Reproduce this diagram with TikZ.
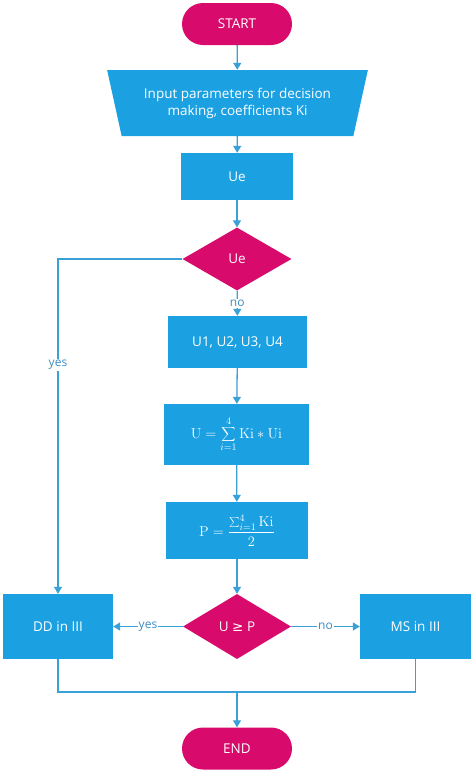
\documentclass[tikz,border=0pt]{standalone}
\usepackage[no-math]{fontspec}
\setmainfont{Open Sans}
\newfontfamily\symfont{DejaVu Sans}
\usetikzlibrary{shapes.geometric, arrows.meta}
\definecolor{boxblue}{HTML}{1BA1E2}
\definecolor{pinkc}{HTML}{D80A6B}
\definecolor{linec}{HTML}{3AA0D8}
\definecolor{labc}{HTML}{3D8EC2}
\begin{document}
\begin{tikzpicture}[x=1pt,y=-1pt,
  font=\fontsize{13.5}{17}\selectfont,
  proc/.style={rectangle, fill=boxblue, text=white, inner sep=2pt, align=center},
  term/.style={rectangle, rounded corners=21pt, fill=pinkc, text=white, minimum width=110pt, minimum height=42pt},
  dec/.style={diamond, fill=pinkc, text=white, inner sep=0pt},
  conn/.style={draw=linec, line width=1.3pt, -{Triangle[width=8pt,length=7pt]}},
  plain/.style={draw=linec, line width=1.3pt},
  lab/.style={fill=white, text=labc, inner sep=1pt, font=\fontsize{12}{14}\selectfont},
  mathf/.style={font=\fontsize{14}{17}\selectfont}
]
\useasboundingbox (0,0) rectangle (474,772);

\node[term] (start) at (237,24) {START};
\node[trapezium, trapezium stretches=true, shape border rotate=180,
      trapezium left angle=69, trapezium right angle=69,
      minimum width=261pt, minimum height=66pt, fill=boxblue, text=white,
      align=center, inner sep=0pt] (input) at (237.5,103)
      {Input parameters for decision\\making, coefficients Ki};
\node[proc, minimum width=112pt, minimum height=47pt] (ue) at (237,176.5) {Ue};
\node[dec, minimum width=109pt, minimum height=63pt] (d1) at (237,259) {Ue};
\node[proc, minimum width=139pt, minimum height=52pt] (u14) at (237.5,342) {U1, U2, U3, U4};
\node[proc, mathf, minimum width=145pt, minimum height=61pt] (usum) at (236.5,434.5)
      {$\displaystyle \mathrm{U}=\sum_{i=1}^{4}\mathrm{Ki}*\mathrm{Ui}$};
\node[proc, mathf, minimum width=142pt, minimum height=57pt] (pf) at (237,530.5)
      {$\displaystyle \mathrm{P}=\frac{\sum_{i=1}^{4}\mathrm{Ki}}{2}$};
\node[dec, minimum width=108pt, minimum height=65pt] (d2) at (237,626.5) {U {\symfont ≥} P};
\node[proc, minimum width=110pt, minimum height=65pt] (dd) at (58,626.5) {DD in III};
\node[proc, minimum width=111pt, minimum height=65pt] (ms) at (415.5,626.5) {MS in III};
\node[term] (end) at (237,748.5) {END};
\coordinate (join) at (237,692);

\draw[conn] (start) -- (input);
\draw[conn] (input) -- (ue);
\draw[conn] (ue) -- (d1);
\draw[conn] (d1) -- node[lab] {no} (u14);
\draw[conn] (d1.west) -| node[lab, pos=0.658] {yes} (dd.north);
\draw[conn] (u14) -- (usum);
\draw[conn] (usum) -- (pf);
\draw[conn] (pf) -- (d2);
\draw[conn] (d2) -- node[lab] {yes} (dd);
\draw[conn] (d2) -- node[lab] {no} (ms);
\draw[plain] (dd.south) |- (join) -| (ms.south);
\draw[conn] (join) -- (end);
\end{tikzpicture}
\end{document}
